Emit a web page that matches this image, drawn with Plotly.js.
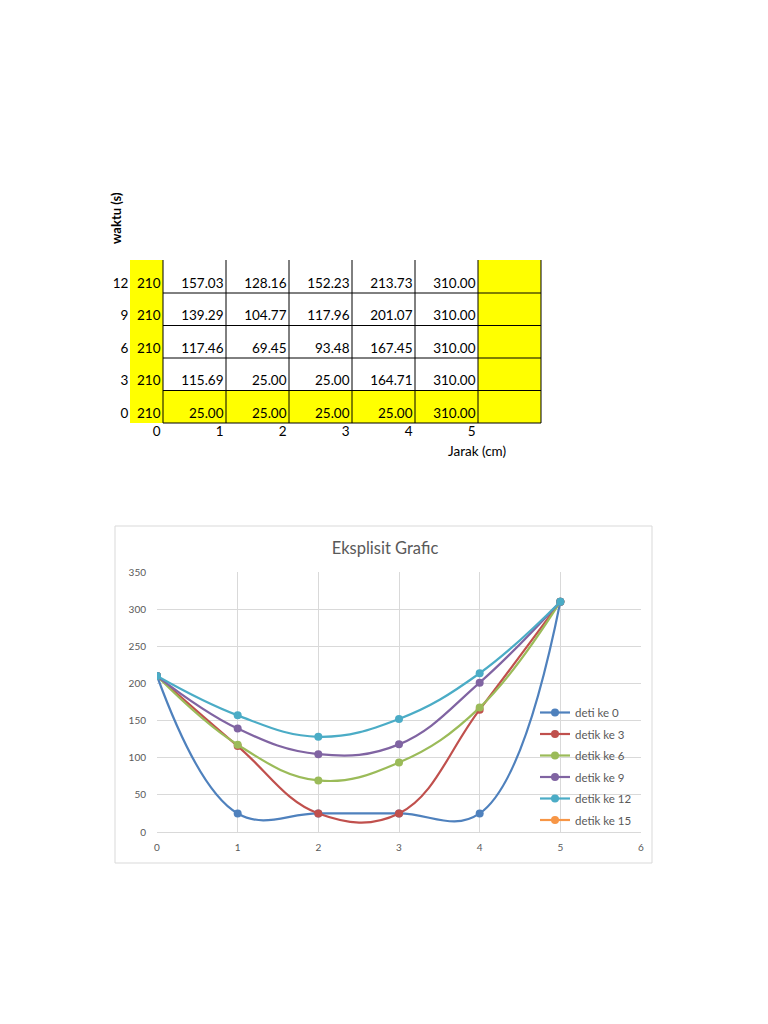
<!DOCTYPE html>
<html>
<head>
<meta charset="utf-8">
<script src="https://cdn.plot.ly/plotly-3.0.1.min.js"></script>
<style>html,body{margin:0;padding:0;background:#fff;}#chart{width:768px;height:1024px;}</style>
</head>
<body>
<div id="chart"></div>
<script>
// ---- data ----
const distances = [0, 1, 2, 3, 4, 5];
const t0  = [210, 25.00, 25.00, 25.00, 25.00, 310.00];
const t3  = [210, 115.69, 25.00, 25.00, 164.71, 310.00];
const t6  = [210, 117.46, 69.45, 93.48, 167.45, 310.00];
const t9  = [210, 139.29, 104.77, 117.96, 201.07, 310.00];
const t12 = [210, 157.03, 128.16, 152.23, 213.73, 310.00];
const t15 = [];
const seriesNames = ['deti ke 0', 'detik ke 3', 'detik ke 6', 'detik ke 9', 'detik ke 12', 'detik ke 15'];
const times = [0, 3, 6, 9, 12];
const colLabels = ['0', '1', '2', '3', '4', '5'];
const chartTitle = 'Eksplisit Grafic';
const tableXTitle = 'Jarak (cm)';
const tableYTitle = 'waktu (s)';

// ---- styles ----
const colors = ['#4F81BD', '#C0504D', '#9BBB59', '#8064A2', '#4BACC6', '#F79646'];
const FONT = 'Lato, "Open Sans", sans-serif';
const W = 768, H = 1024;

const allSeries = [t0, t3, t6, t9, t12, t15];
const traces = [];
allSeries.forEach((ys, k) => {
  traces.push({
    type: 'scatter', mode: 'lines+markers',
    x: ys.length ? distances : [null], y: ys.length ? ys : [null],
    name: seriesNames[k], legendgroup: 'g' + k,
    line: {color: colors[k], width: 2.2, shape: 'spline', smoothing: 1.15},
    marker: {color: colors[k], size: 8},
    xaxis: 'x', yaxis: 'y', hoverinfo: 'skip'
  });
});

// ---- table (hidden axes x2/y2; column j's right edge at x2=j, row i text centre at y2=i) ----
const colW = 63, colRight0 = 163;       // px
const rowH = 32.5, rowText0 = 414.5;    // px
const pad = 2.5 / colW;
const tblX = [], tblY = [], tblT = [];
times.forEach((t, i) => {
  const ys = allSeries[i];
  ys.forEach((v, j) => {
    tblX.push(j - pad); tblY.push(i);
    tblT.push(j === 0 ? String(v) : v.toFixed(2));
  });
});
const tblFont = {family: FONT, size: 13.5, color: '#000'};
traces.push({
  type: 'scatter', mode: 'text', x: tblX, y: tblY, text: tblT,
  textposition: 'middle left', textfont: tblFont,
  xaxis: 'x2', yaxis: 'y2', showlegend: false, hoverinfo: 'skip', cliponaxis: false
});
// row labels (time)
traces.push({
  type: 'scatter', mode: 'text', x: times.map(() => -0.55), y: times.map((t, i) => i),
  text: times.map(String), textposition: 'middle left', textfont: tblFont,
  xaxis: 'x2', yaxis: 'y2', showlegend: false, hoverinfo: 'skip', cliponaxis: false
});
// column labels (distance)
traces.push({
  type: 'scatter', mode: 'text', x: distances.map(d => d - 2.5 / colW), y: distances.map(() => -0.55),
  text: colLabels, textposition: 'middle left', textfont: tblFont,
  xaxis: 'x2', yaxis: 'y2', showlegend: false, hoverinfo: 'skip', cliponaxis: false
});

const x2range = [-colRight0 / colW, (W - colRight0) / colW];
const y2range = [(rowText0 - H) / rowH, rowText0 / rowH];
const rowLineOff = 8.5 / rowH;
const yBot = -rowLineOff, yTop = (rowText0 - 260) / rowH;

const shapes = [];
// yellow fills
shapes.push({type: 'rect', xref: 'x2', yref: 'y2', x0: -33 / colW, x1: 0, y0: yBot, y1: yTop, fillcolor: '#FFFF00', line: {width: 0}, layer: 'below'});
shapes.push({type: 'rect', xref: 'x2', yref: 'y2', x0: 0, x1: 5, y0: yBot, y1: 1 - rowLineOff, fillcolor: '#FFFF00', line: {width: 0}, layer: 'below'});
shapes.push({type: 'rect', xref: 'x2', yref: 'y2', x0: 5, x1: 6, y0: yBot, y1: yTop, fillcolor: '#FFFF00', line: {width: 0}, layer: 'below'});
// vertical grid lines
for (let j = 0; j <= 6; j++) {
  shapes.push({type: 'line', xref: 'x2', yref: 'y2', x0: j, x1: j, y0: yBot, y1: yTop, line: {color: '#000', width: 1}});
}
// horizontal grid lines
for (let i = 0; i <= 4; i++) {
  shapes.push({type: 'line', xref: 'x2', yref: 'y2', x0: 0, x1: 6, y0: i - rowLineOff, y1: i - rowLineOff, line: {color: '#000', width: 1}});
}
// chart frame
shapes.push({type: 'rect', xref: 'paper', yref: 'paper', x0: 115 / W, x1: 652 / W, y0: 1 - 863 / H, y1: 1 - 526 / H, line: {color: '#D9D9D9', width: 1}, fillcolor: 'rgba(0,0,0,0)', layer: 'below'});

const annotations = [
  {text: tableXTitle, xref: 'paper', yref: 'paper', x: 477 / W, y: 1 - 451 / H, showarrow: false, font: tblFont, xanchor: 'center', yanchor: 'middle'},
  {text: '<b>' + tableYTitle + '</b>', xref: 'paper', yref: 'paper', x: 116 / W, y: 1 - 218 / H, showarrow: false, textangle: -90, font: {family: FONT, size: 13, color: '#000'}, xanchor: 'center', yanchor: 'middle'}
];

const tickFont = {family: FONT, size: 10, color: '#595959'};
const layout = {
  width: W, height: H,
  margin: {l: 0, r: 0, t: 0, b: 0, pad: 0},
  paper_bgcolor: '#fff', plot_bgcolor: 'rgba(0,0,0,0)',
  font: {family: FONT},
  title: {text: chartTitle, x: 385 / W, y: 1 - 548 / H, xanchor: 'center', yanchor: 'middle', xref: 'paper', yref: 'paper', font: {family: FONT, size: 16.5, color: '#595959'}},
  xaxis: {domain: [157 / W, 641 / W], range: [0, 6], dtick: 1, tick0: 0, showgrid: true, gridcolor: '#D9D9D9', zeroline: false, showline: true, linecolor: '#D9D9D9', ticks: '', ticklabelstandoff: 6, tickfont: tickFont, anchor: 'y', fixedrange: true},
  yaxis: {domain: [1 - 832 / H, 1 - 572 / H], range: [0, 350], dtick: 50, tick0: 0, showgrid: true, gridcolor: '#D9D9D9', zeroline: false, showline: false, ticks: '', ticklabelstandoff: 10, tickfont: tickFont, anchor: 'x', fixedrange: true},
  xaxis2: {domain: [0, 1], range: x2range, visible: false, anchor: 'y2', fixedrange: true},
  yaxis2: {domain: [0, 1], range: y2range, visible: false, anchor: 'x2', fixedrange: true},
  legend: {x: 535 / W, y: 1 - 698 / H, xanchor: 'left', yanchor: 'top', bgcolor: 'rgba(0,0,0,0)', font: {family: FONT, size: 11.5, color: '#595959'}, tracegroupgap: 2.5, traceorder: 'grouped'},
  showlegend: true,
  shapes: shapes, annotations: annotations
};

Plotly.newPlot('chart', traces, layout, {staticPlot: true, displayModeBar: false});
</script>
</body>
</html>
